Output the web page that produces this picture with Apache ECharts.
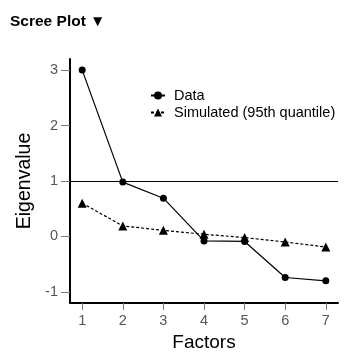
<!DOCTYPE html>
<html><head><meta charset="utf-8">
<script src="https://cdn.jsdelivr.net/npm/echarts@6/dist/echarts.min.js"></script>
<style>html,body{margin:0;padding:0;background:#fff}#c{width:358px;height:361px}</style>
</head><body><div id="c"></div>
<script>
var factors = [1, 2, 3, 4, 5, 6, 7];
var dataEigen = [3.0, 0.98, 0.69, -0.08, -0.09, -0.74, -0.80];
var simEigen = [0.60, 0.19, 0.11, 0.04, -0.02, -0.10, -0.19];
var yTicks = [-1, 0, 1, 2, 3];
var refLine = 1;

var chart = echarts.init(document.getElementById('c'));
var font = 'Liberation Sans, Arial, sans-serif';
chart.setOption({
  animation: false,
  title: {
    text: 'Scree Plot \u25BC', left: 5, top: 9,
    textStyle: {fontFamily: font, fontSize: 15.5, fontWeight: 'bold', color: '#000'}
  },
  legend: {
    left: 145, top: 83, orient: 'vertical', itemGap: 2, itemWidth: 14, itemHeight: 10,
    textStyle: {fontFamily: font, fontSize: 14.5, color: '#000', padding: [0, 0, 0, 4]},
    data: ['Data', 'Simulated (95th quantile)']
  },
  grid: {left: 70, right: 20, top: 59, bottom: 58},
  xAxis: {
    type: 'value', min: 0.7, max: 7.3,
    name: 'Factors', nameLocation: 'middle', nameGap: 30,
    nameTextStyle: {fontFamily: font, fontSize: 19, color: '#000'},
    axisLine: {show: true, onZero: false, lineStyle: {color: '#000', width: 2}},
    axisTick: {show: true, length: 7, customValues: factors, lineStyle: {color: '#777'}},
    axisLabel: {customValues: factors, fontFamily: font, fontSize: 14.5, color: '#555', margin: 10},
    splitLine: {show: false}
  },
  yAxis: {
    type: 'value', min: -1.2, max: 3.2,
    name: 'Eigenvalue', nameLocation: 'middle', nameGap: 33,
    nameTextStyle: {fontFamily: font, fontSize: 19.5, color: '#000'},
    axisLine: {show: true, onZero: false, lineStyle: {color: '#000', width: 2}},
    axisTick: {show: true, length: 9, customValues: yTicks, lineStyle: {color: '#777'}},
    axisLabel: {customValues: yTicks, fontFamily: font, fontSize: 14.5, color: '#555', margin: 12},
    splitLine: {show: false}
  },
  series: [
    {
      name: 'Data', type: 'line',
      data: factors.map(function (f, i) { return [f, dataEigen[i]]; }),
      symbol: 'circle', symbolSize: 7,
      lineStyle: {color: '#000', width: 1.2},
      itemStyle: {color: '#000'},
      markLine: {
        silent: true, symbol: 'none', label: {show: false},
        lineStyle: {color: '#000', width: 1.2, type: 'solid'},
        data: [{yAxis: refLine}]
      },
      z: 3
    },
    {
      name: 'Simulated (95th quantile)', type: 'line',
      data: factors.map(function (f, i) { return [f, simEigen[i]]; }),
      symbol: 'triangle', symbolSize: 9,
      lineStyle: {color: '#000', width: 1.2, type: [3, 2]},
      itemStyle: {color: '#000'},
      z: 2
    }
  ]
});
</script></body></html>
